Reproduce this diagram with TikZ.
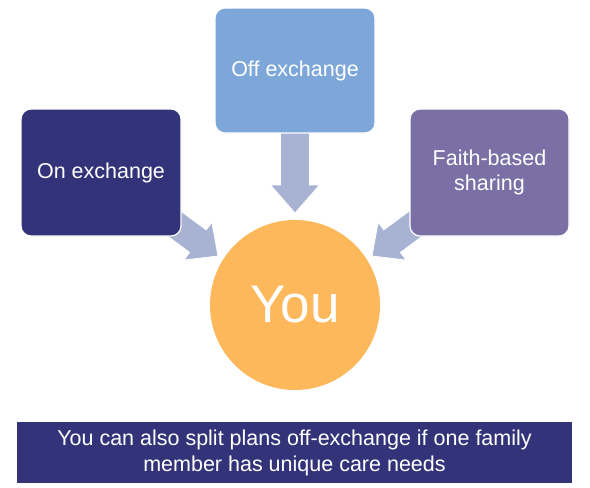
\documentclass[tikz,border=0pt]{standalone}
\usepackage{fontspec}
\setmainfont{Liberation Sans}
\usetikzlibrary{calc}
\definecolor{navy}{HTML}{333379}
\definecolor{lightblue}{HTML}{7DA7D8}
\definecolor{faith}{HTML}{7B70A6}
\definecolor{youorange}{HTML}{FCB85B}
\definecolor{arrowblue}{HTML}{A8B3D3}
\tikzset{
  box/.style={rounded corners=10pt, draw=white, line width=1.2pt, text=white,
    font=\fontsize{21.5}{25}\selectfont, align=center, inner sep=0pt},
  blockarrow/.style={fill=arrowblue, draw=white, line width=0.8pt, line join=miter},
}
% block arrow: #1 tail, #2 tip, #3 shaft half width, #4 head half width, #5 head length
\newcommand{\blockarrow}[5]{%
  \coordinate (H) at ($(#2)!#5!(#1)$);
  \filldraw[blockarrow]
    ($(#1)!#3!90:(#2)$) -- ($(H)!#3!-90:(#1)$) -- ($(H)!#4!-90:(#1)$) -- (#2)
    -- ($(H)!#4!90:(#1)$) -- ($(H)!#3!90:(#1)$) -- ($(#1)!#3!-90:(#2)$) -- cycle;
}
\begin{document}
\begin{tikzpicture}[x=1pt,y=-1pt]
\useasboundingbox (0,0) rectangle (590,488);
% arrow end points
\coordinate (ltail) at (172,222);
\coordinate (ltip) at (218,256);
\coordinate (rtail) at (418,222);
\coordinate (rtip) at (372,256);
\coordinate (dtail) at (295,130);
\coordinate (dtip) at (295,213);
\blockarrow{ltail}{ltip}{14pt}{23.5pt}{25pt}
\blockarrow{rtail}{rtip}{14pt}{23.5pt}{25pt}
\blockarrow{dtail}{dtip}{14.5pt}{24.5pt}{28pt}
% boxes
\node[box, fill=lightblue, minimum width=160pt, minimum height=125pt] (off) at (295,70.5) {Off exchange};
\node[box, fill=navy, minimum width=160pt, minimum height=127pt] (on) at (101,172.5) {On exchange};
\node[box, fill=faith, minimum width=159pt, minimum height=127pt] (faith) at (489.5,172.5) {Faith-based\\sharing};
% circle
\node[circle, fill=youorange, minimum size=170pt, inner sep=0pt, text=white,
  font=\fontsize{53}{60}\selectfont] (you) at (295,305) {You};
% bottom bar
\node[fill=navy, minimum width=555pt, minimum height=61pt, inner sep=0pt, text=white,
  align=center, font=\fontsize{21.5}{26}\selectfont] (note) at (294.5,452.5)
  {You can also split plans off-exchange if one family\\member has unique care needs};
\end{tikzpicture}
\end{document}
